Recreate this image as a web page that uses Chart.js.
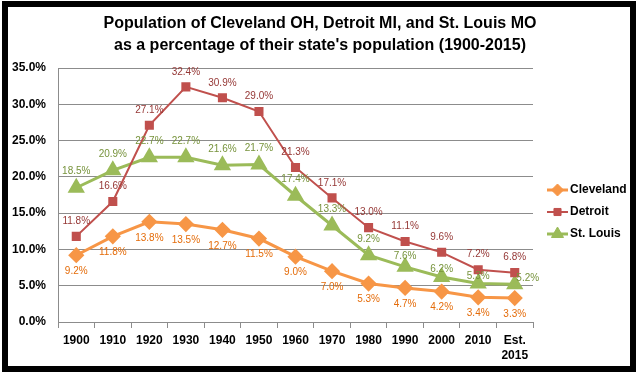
<!DOCTYPE html>
<html>
<head>
<meta charset="utf-8">
<script src="https://cdn.jsdelivr.net/npm/chart.js"></script>
<style>
html, body { margin: 0; padding: 0; background: #fff; }
#wrap { position: relative; width: 640px; height: 375px; }
#frame { position: absolute; left: 2px; top: 1px; width: 634px; height: 371px; box-sizing: border-box; border: 6px solid #000; pointer-events: none; }
</style>
</head>
<body>
<div id="wrap">
  <canvas id="myChart" width="640" height="375"></canvas>
  <div id="frame"></div>
</div>
<script>
// categories
var years = ['1900', '1910', '1920', '1930', '1940', '1950', '1960', '1970', '1980', '1990', '2000', '2010', ['Est.', '2015']];

// percentage of state population
var cleveland = [9.2, 11.8, 13.8, 13.5, 12.7, 11.5, 9.0, 7.0, 5.3, 4.7, 4.2, 3.4, 3.3];
var detroit = [11.8, 16.6, 27.1, 32.4, 30.9, 29.0, 21.3, 17.1, 13.0, 11.1, 9.6, 7.2, 6.8];
var stLouis = [18.5, 20.9, 22.7, 22.7, 21.6, 21.7, 17.4, 13.3, 9.2, 7.6, 6.2, 5.3, 5.2];

var yMin = 0, yMax = 35, yStep = 5;

var titleLines = ['Population of Cleveland OH, Detroit MI, and St. Louis MO',
                  "as a percentage of their state's population (1900-2015)"];

var FONT = "'Liberation Sans', Arial, sans-serif";

// a few labels near the end were moved by hand in the excel chart
var labelTweaks = {
    2: { 9: [0, 5], 10: [0, 8], 11: [0, 9], 12: [13, 10] }
};

var pointLabels = {
    id: 'pointLabels',
    afterDatasetsDraw: function (chart) {
        var ctx = chart.ctx;
        ctx.save();
        ctx.font = '10px ' + FONT;
        ctx.textAlign = 'center';
        ctx.textBaseline = 'middle';
        chart.data.datasets.forEach(function (ds, i) {
            var meta = chart.getDatasetMeta(i);
            meta.data.forEach(function (pt, j) {
                var dx = 0, dy = ds.labelDy;
                if (labelTweaks[i] && labelTweaks[i][j]) {
                    dx += labelTweaks[i][j][0];
                    dy += labelTweaks[i][j][1];
                }
                ctx.fillStyle = ds.labelColor;
                ctx.fillText(ds.data[j].toFixed(1) + '%', pt.x + dx, pt.y + dy);
            });
        });
        ctx.restore();
    }
};

// title is centred on the whole frame, not on the plot, so draw it here
var frameTitle = {
    id: 'frameTitle',
    afterDraw: function (chart) {
        var ctx = chart.ctx;
        ctx.save();
        ctx.fillStyle = '#000';
        ctx.font = 'bold 16px ' + FONT;
        ctx.textAlign = 'center';
        ctx.textBaseline = 'middle';
        titleLines.forEach(function (t, i) {
            ctx.fillText(t, 320, 24 + i * 22);
        });
        ctx.restore();
    }
};

// excel style legend: short line with the marker on it
var sideLegend = {
    id: 'sideLegend',
    afterDraw: function (chart) {
        var ctx = chart.ctx;
        var x0 = 547, x1 = 568, y = 190, gap = 22;
        ctx.save();
        chart.data.datasets.forEach(function (ds, i) {
            var yy = y + i * gap;
            ctx.strokeStyle = ds.borderColor;
            ctx.lineWidth = ds.borderWidth;
            ctx.beginPath();
            ctx.moveTo(x0, yy);
            ctx.lineTo(x1, yy);
            ctx.stroke();
            ctx.fillStyle = ds.pointBackgroundColor;
            ctx.strokeStyle = ds.pointBorderColor;
            ctx.lineWidth = 1;
            Chart.helpers.drawPoint(ctx, { pointStyle: ds.pointStyle, radius: ds.pointRadius, borderWidth: 1 }, (x0 + x1) / 2, yy);
            ctx.fillStyle = '#000';
            ctx.font = 'bold 12px ' + FONT;
            ctx.textAlign = 'left';
            ctx.textBaseline = 'middle';
            ctx.fillText(ds.label, x1 + 2, yy);
        });
        ctx.restore();
    }
};

var ctx = document.getElementById('myChart');
var chart = new Chart(ctx, {
    type: 'line',
    data: {
        labels: years,
        datasets: [
            {
                label: 'Cleveland',
                data: cleveland,
                borderColor: '#F79646',
                backgroundColor: '#F79646',
                pointBackgroundColor: '#F79646',
                pointBorderColor: '#F79646',
                borderWidth: 3,
                pointStyle: 'rectRot',
                pointRadius: 6,
                labelColor: '#E46C0A',
                labelDy: 16
            },
            {
                label: 'Detroit',
                data: detroit,
                borderColor: '#C0504D',
                backgroundColor: '#C0504D',
                pointBackgroundColor: '#C0504D',
                pointBorderColor: '#C0504D',
                borderWidth: 2,
                pointStyle: 'rect',
                pointRadius: 5,
                labelColor: '#953735',
                labelDy: -15
            },
            {
                label: 'St. Louis',
                data: stLouis,
                borderColor: '#9BBB59',
                backgroundColor: '#9BBB59',
                pointBackgroundColor: '#9BBB59',
                pointBorderColor: '#9BBB59',
                borderWidth: 3,
                pointStyle: 'triangle',
                pointRadius: 7,
                labelColor: '#77933C',
                labelDy: -16
            }
        ]
    },
    options: {
        responsive: false,
        animation: false,
        layout: { padding: { left: 8, right: 107, top: 68, bottom: 8 } },
        plugins: {
            legend: { display: false },
            tooltip: { enabled: false },
            title: { display: false }
        },
        scales: {
            x: {
                offset: true,
                grid: { display: true, drawOnChartArea: false, drawTicks: true, tickLength: 6, offset: true, color: '#8c8c8c' },
                border: { display: true, color: '#8c8c8c' },
                ticks: { color: '#000', padding: 5, maxRotation: 0, autoSkip: false,
                         font: { family: FONT, size: 12, weight: 'bold', lineHeight: 1.25 } },
                afterFit: function (scale) { scale.height = 45; }
            },
            y: {
                min: yMin,
                max: yMax,
                ticks: { stepSize: yStep, color: '#000', padding: 12,
                         font: { family: FONT, size: 12, weight: 'bold' },
                         callback: function (v) { return v.toFixed(1) + '%'; } },
                grid: { color: '#8c8c8c', drawTicks: false },
                border: { display: true, color: '#8c8c8c' },
                afterFit: function (scale) { scale.width = 50; }
            }
        }
    },
    plugins: [pointLabels, frameTitle, sideLegend]
});
</script>
</body>
</html>
